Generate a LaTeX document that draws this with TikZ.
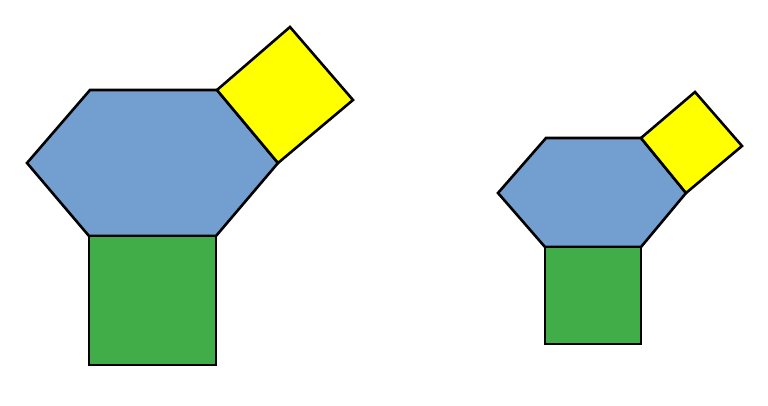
\documentclass[tikz,border=0pt]{standalone}
\usepackage[dvipsnames]{xcolor}
\definecolor{hexblue}{RGB}{114,159,207}
\definecolor{sqgreen}{RGB}{65,173,73}
\definecolor{sqyellow}{RGB}{255,255,0}

\begin{document}
\begin{tikzpicture}[x=1pt,y=-1pt,line width=2.6pt,line join=miter,hex/.style={fill=hexblue,draw=black},green square/.style={fill=sqgreen,draw=black},yellow square/.style={fill=sqyellow,draw=black}]
                \useasboundingbox (0,0) rectangle (768,406);

                % big figure
                \coordinate (h1) at (27,163);
                \coordinate (h2) at (90,90);
                \coordinate (h3) at (217,90);
                \coordinate (h4) at (278,163);
                \coordinate (h5) at (216,236);
                \coordinate (h6) at (89,236);
                \coordinate (g1) at (89,365);
                \coordinate (g2) at (216,365);
                \coordinate (y1) at (290,27);
                \coordinate (y2) at (353,100);

                \path[hex] (h1) -- (h2) -- (h3) -- (h4) -- (h5) -- (h6) -- cycle;
                \path[green square] (h6) -- (h5) -- (g2) -- (g1) -- cycle;
                \path[yellow square] (h3) -- (y1) -- (y2) -- (h4) -- cycle;

                % small figure
                \coordinate (k1) at (498,193);
                \coordinate (k2) at (546,138);
                \coordinate (k3) at (641,138);
                \coordinate (k4) at (686,193);
                \coordinate (k5) at (641,247);
                \coordinate (k6) at (545,247);
                \coordinate (m1) at (545,344);
                \coordinate (m2) at (641,344);
                \coordinate (n1) at (695,92);
                \coordinate (n2) at (742,146);

                \path[hex] (k1) -- (k2) -- (k3) -- (k4) -- (k5) -- (k6) -- cycle;
                \path[green square] (k6) -- (k5) -- (m2) -- (m1) -- cycle;
                \path[yellow square] (k3) -- (n1) -- (n2) -- (k4) -- cycle;
            \end{tikzpicture}
\end{document}
